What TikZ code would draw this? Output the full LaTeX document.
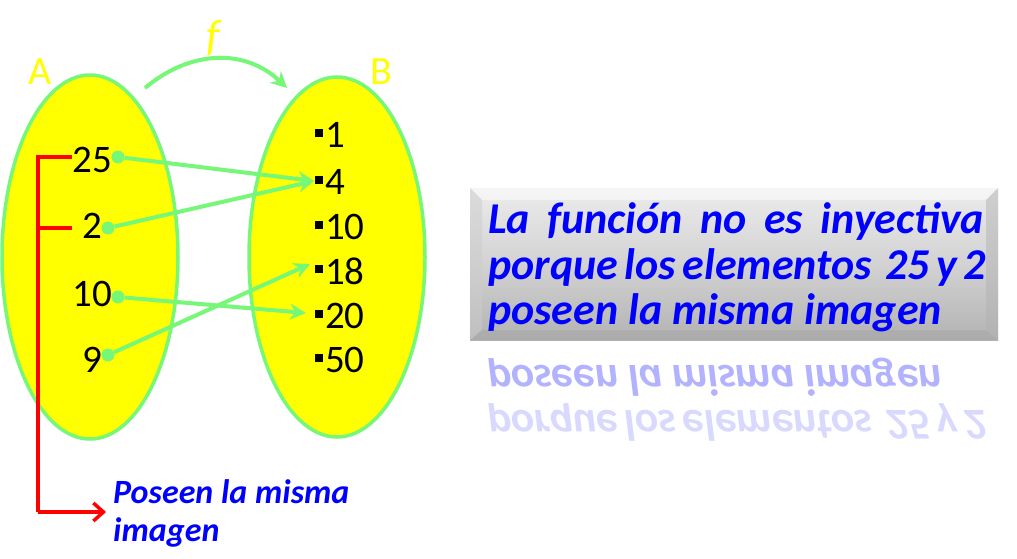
\documentclass[tikz,border=0pt]{standalone}
\usepackage{fontspec}
\setmainfont{Carlito}
\usetikzlibrary{arrows.meta,shapes.geometric}
\definecolor{lg}{HTML}{77F777}
\definecolor{ylw}{HTML}{FFFF00}
\definecolor{lblue}{HTML}{0000FF}
\newcommand{\bxfont}{\bfseries\itshape\fontsize{44}{46}\selectfont}
\newcommand{\lineA}{\makebox[496pt][s]{La función no es inyectiva}}
\newcommand{\lineB}{\makebox[496pt][s]{porque los elementos \ 25 y 2}}
\newcommand{\lineC}{\makebox[496pt][l]{poseen la misma imagen}}
\begin{document}
\begin{tikzpicture}[x=1pt,y=-1pt,
  ell/.style={draw=lg,line width=3.5pt,fill=ylw},
  num/.style={font=\fontsize{39}{40}\selectfont,inner sep=0pt},
  dotn/.style={circle,fill=lg,inner sep=0pt,minimum size=13pt},
  sq/.style={fill=black,inner sep=0pt,minimum size=8pt},
  garr/.style={draw=lg,line width=4pt,-{Stealth[length=16pt,width=16pt]}},
  lbl/.style={text=ylw,font=\fontsize{40}{40}\selectfont},
  btxt/.style={anchor=west,inner sep=0pt,font=\bxfont}]
\useasboundingbox (0,0) rectangle (1017,559);
\fill[white] (0,0) rectangle (1017,559);
\node[ell,ellipse,minimum width=176pt,minimum height=364pt,inner sep=0pt] (A) at (90,257) {};
\node[ell,ellipse,minimum width=176pt,minimum height=360pt,inner sep=0pt] (B) at (337,257) {};
\node[lbl] (la) at (40,72) {A};
\node[lbl] (lb) at (381,72) {B};
\node[lbl,font=\itshape\fontsize{44}{44}\selectfont] (f) at (213,38) {f};
\coordinate (fa) at (145,88); \coordinate (fb) at (287,88);
\draw[garr] (fa) .. controls (190,50) and (245,48) .. (fb);
% left
\node[num] (n25) at (92,160) {25};
\node[num] (n2) at (92,226) {2};
\node[num] (n10) at (92,294) {10};
\node[num] (n9) at (92,360) {9};
\node[dotn] (d25) at (118,157) {};
\node[dotn] (d2) at (108,228) {};
\node[dotn] (d10) at (118,297) {};
\node[dotn] (d9) at (108,355) {};
% right
\foreach \t/\y/\nm in {1/135/r1,4/182/r4,10/227/r10,18/271/r18,20/316/r20,50/360/r50}{
  \node[num,anchor=west] (\nm) at (325,\y) {\t};
  \node[sq] (s\nm) at (319,\y-2) {};
}
\coordinate (e4) at (314,181); \coordinate (e20) at (306,313); \coordinate (e18) at (310,264);
\draw[garr] (d25) -- (e4);
\draw[garr] (d2) -- (e4);
\draw[garr] (d10) -- (e20);
\draw[garr] (d9) -- (e18);
% red bracket
\coordinate (r1) at (72,157); \coordinate (r2) at (72,228);
\coordinate (rc) at (38,157); \coordinate (rm) at (38,228);
\coordinate (rb) at (38,512); \coordinate (re) at (106,512);
\draw[red,line width=3.5pt] (r1) -- (rc) -- (rb);
\draw[red,line width=3.5pt,-{Straight Barb[length=10pt,width=18pt]}] (rb) -- (re);
\draw[red,line width=3.5pt] (rm) -- (r2);
\node[anchor=west,inner sep=0pt,text=lblue,font=\bfseries\itshape\fontsize{34}{34}\selectfont] (pos1) at (113,492) {Poseen la misma};
\node[anchor=west,inner sep=0pt,text=lblue,font=\bfseries\itshape\fontsize{34}{34}\selectfont] (pos2) at (113,532) {imagen};
% box
\shade[top color=gray!15,bottom color=gray!60,middle color=gray!35] (470,188) rectangle (998,340);
\fill[white,opacity=0.5] (470,188) -- (998,188) -- (986,200) -- (482,200) -- cycle;
\fill[gray!70,opacity=0.5] (470,340) -- (998,340) -- (986,330) -- (482,330) -- cycle;
\fill[gray!40,opacity=0.5] (470,188) -- (482,200) -- (482,330) -- (470,340) -- cycle;
\fill[gray!60,opacity=0.5] (998,188) -- (986,200) -- (986,330) -- (998,340) -- cycle;
\node[btxt,text=lblue] (b1) at (488,222) {\lineA};
\node[btxt,text=lblue] (b2) at (488,268) {\lineB};
\node[btxt,text=lblue] (b3) at (488,313) {\lineC};
% reflection
\begin{scope}
\clip (470,355) rectangle (998,440);
\node[btxt,text=lblue!30,yscale=-1] (rb3) at (488,377) {\lineC};
\node[btxt,text=lblue!15,yscale=-1] (rb2) at (488,422) {\lineB};
\end{scope}
\end{tikzpicture}
\end{document}
